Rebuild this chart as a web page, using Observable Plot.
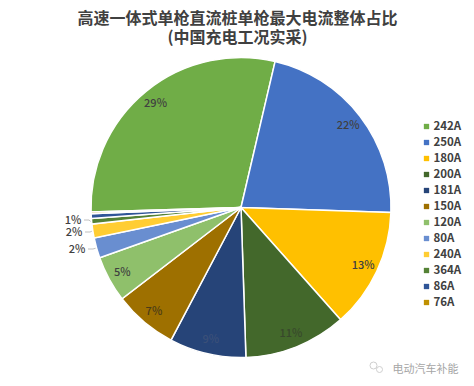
<!DOCTYPE html>
<html><head><meta charset="utf-8">
<script src="https://cdn.jsdelivr.net/npm/d3@7"></script>
<script src="https://cdn.jsdelivr.net/npm/@observablehq/plot@0.6"></script>
<style>html,body{margin:0;padding:0;background:#fff}svg{display:block}</style>
</head><body><div id="c"></div>
<script>
const currents = ["242A","250A","180A","200A","181A","150A","120A","80A","240A","364A","86A","76A"];
const shares = [29.3,22.0,13.0,11.1,8.3,6.9,5.0,2.2,1.5,0.6,0.5,0.2];
const shown = ["29%","22%","13%","11%","9%","7%","5%","2%","2%","1%","",""];
const colours = ["#70ad47","#4472c4","#ffc000","#43682b","#264478","#9e7000","#8fc06b","#698ed0","#ffcd33","#548235","#2f5597","#bf9000"];
const labelColours = ["#404040","#404040","#404040","#38482c","#3b5078","#4a3c18","#404040","#404040","#404040","#404040","#404040","#404040"];
const rows = currents.map((current,i)=>({current,share:shares[i],label:shown[i]}));
const total = d3.sum(shares);
const start = 268.3*Math.PI/180;
const cx=241, cy=207.5, R=150;
function arcRender(index, scales, values){
  const g = d3.create("svg:g");
  const arc = d3.arc().innerRadius(0).outerRadius(R);
  for (const i of index){
    g.append("path")
     .attr("transform",`translate(${cx},${cy})`)
     .attr("d",arc({startAngle:values.x1[i],endAngle:values.x2[i]}))
     .attr("fill",values.fill[i]).attr("stroke","#fff").attr("stroke-width",1.5);
  }
  return g.node();
}
function labelRender(index, scales, values){
  const g = d3.create("svg:g");
  const outside = [[77,249],[74,232],[73,220]];
  for (const i of index){
    if(!rows[i].label) continue;
    const a=(values.x1[i]+values.x2[i])/2;
    const out = i>=7;
    const r = 135;
    const x = out? outside[i-7][0] : cx+r*Math.sin(a);
    const y = out? outside[i-7][1] : cy-r*Math.cos(a);
    if(out){
      g.append("path").attr("fill","none").attr("stroke","#bfbfbf")
       .attr("d",`M${x+11},${y}L${x+16},${y}L${cx+(R+1)*Math.sin(a)},${cy-(R+1)*Math.cos(a)}`);
    }
    g.append("text").attr("x",x).attr("y",y).attr("dy","0.35em").attr("text-anchor","middle")
     .attr("font-size",11).attr("font-weight",500).attr("fill",labelColours[i]).text(rows[i].label);
  }
  return g.node();
}
const plot = Plot.plot({
  width:474,height:386,margin:0,
  style:{fontFamily:"'Noto Sans CJK SC',sans-serif",background:"#fff"},
  x:{domain:[0,total],range:[start,start+2*Math.PI],axis:null},
  y:{domain:currents,range:[113,315],type:"point",axis:null},
  color:{domain:currents,range:colours},
  marks:[
    Plot.barX(rows,{x:"share",fill:"current",render:arcRender}),
    Plot.barX(rows,{x:"share",render:labelRender}),
    Plot.dot(rows,{y:"current",frameAnchor:"left",dx:426,symbol:"square",r:3,fill:"current"}),
    Plot.text(rows,{y:"current",text:"current",frameAnchor:"left",dx:433,textAnchor:"start",fontSize:11.5,fontWeight:600,fill:"#404040"}),
    Plot.text(["高速一体式单枪直流桩单枪最大电流整体占比"],{frameAnchor:"top",dy:12,lineAnchor:"top",fontSize:16,fontWeight:700,fill:"#404040"}),
    Plot.text(["(中国充电工况实采)"],{frameAnchor:"top",dy:31,lineAnchor:"top",fontSize:16,fontWeight:700,fill:"#404040"}),
    Plot.text(["电动汽车补能"],{frameAnchor:"bottom-left",dx:392,dy:-14,fontSize:11,fill:"#a6a6a6",textAnchor:"start"}),
    Plot.dot([0],{frameAnchor:"bottom-left",dx:373,dy:-21,r:3.5,stroke:"#cfcfcf",fill:"none",strokeWidth:1}),
    Plot.dot([0],{frameAnchor:"bottom-left",dx:379,dy:-17,r:3,stroke:"#cfcfcf",fill:"none",strokeWidth:1})
  ]
});
document.getElementById("c").append(plot);
</script></body></html>
